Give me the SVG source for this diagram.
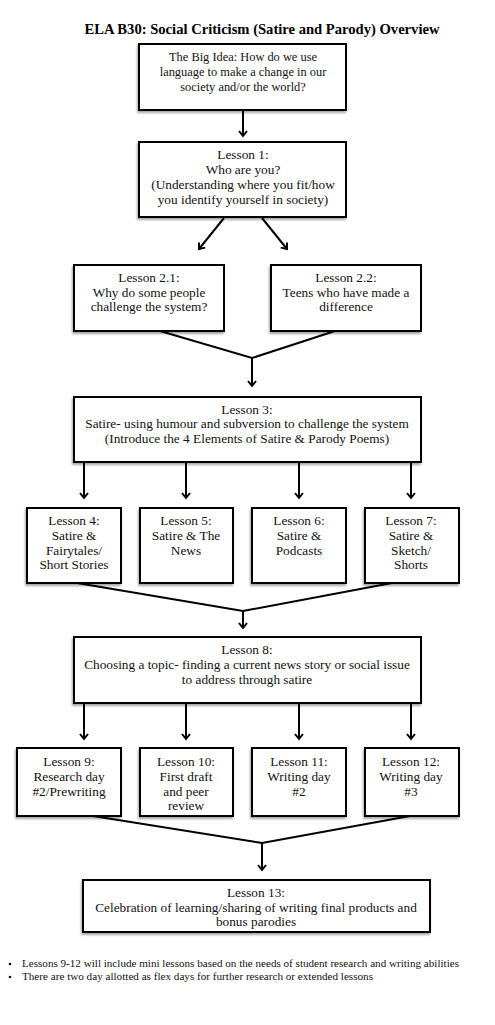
<svg xmlns="http://www.w3.org/2000/svg" width="495" height="1025" viewBox="0 0 495 1025">
<style>
.box{fill:#fff;stroke:#000;stroke-width:2;filter:url(#sh)}
.t{font-family:"Liberation Serif",serif;font-size:13.3px;text-anchor:middle;fill:#111}
.bi{font-family:"Liberation Serif",serif;font-size:12.4px;text-anchor:middle;fill:#111}
.c{stroke:#000;stroke-width:2;fill:none}
.a{stroke:#000;stroke-width:2;fill:none;marker-end:url(#ah)}
.title{font-family:"Liberation Serif",serif;font-size:14.6px;font-weight:bold;text-anchor:middle}
.note{font-family:"Liberation Serif",serif;font-size:10.6px;fill:#111}
</style>
<defs>
<filter id="sh" x="-10%" y="-10%" width="120%" height="130%">
<feDropShadow dx="-1" dy="2" stdDeviation="1.2" flood-color="#000" flood-opacity="0.35"/>
</filter>
<marker id="ah" markerWidth="10" markerHeight="10" refX="8" refY="5" orient="auto" markerUnits="userSpaceOnUse" viewBox="0 0 10 10">
<path d="M3,1 L8,5 L3,9" fill="none" stroke="#000" stroke-width="2"/>
</marker>
</defs>
<rect width="495" height="1025" fill="#fff"/>
<text class="title" x="262" y="34">ELA B30: Social Criticism (Satire and Parody) Overview</text>

<g id="connectors">
<line class="a" x1="243" y1="111" x2="243" y2="136"/>
<line class="a" x1="224" y1="218" x2="199" y2="249"/>
<line class="a" x1="262" y1="218" x2="287" y2="249"/>
<polyline class="c" points="160,331 252,358 335,331"/>
<line class="a" x1="252" y1="357" x2="252" y2="386"/>
<line class="a" x1="84" y1="463" x2="84" y2="498"/>
<line class="a" x1="186" y1="463" x2="186" y2="498"/>
<line class="a" x1="299" y1="463" x2="299" y2="498"/>
<line class="a" x1="411" y1="463" x2="411" y2="498"/>
<polyline class="c" points="77,583 243,611 392,583"/>
<line class="a" x1="243" y1="610" x2="243" y2="628"/>
<line class="a" x1="84" y1="703" x2="84" y2="739"/>
<line class="a" x1="186" y1="703" x2="186" y2="739"/>
<line class="a" x1="299" y1="703" x2="299" y2="739"/>
<line class="a" x1="411" y1="703" x2="411" y2="739"/>
<polyline class="c" points="93,816 262,843 410,816"/>
<line class="a" x1="262" y1="842" x2="262" y2="870"/>
</g>

<g id="bigidea">
<rect class="box" x="139" y="44" width="207" height="66"/>
<text class="bi" x="243" y="61">The Big Idea: How do we use</text>
<text class="bi" x="243" y="76">language to make a change in our</text>
<text class="bi" x="243" y="91">society and/or the world?</text>
</g>

<g id="lesson1">
<rect class="box" x="139" y="142" width="207" height="75"/>
<text class="t" x="243" y="159">Lesson 1:</text>
<text class="t" x="243" y="174">Who are you?</text>
<text class="t" x="243" y="189">(Understanding where you fit/how</text>
<text class="t" x="243" y="204">you identify yourself in society)</text>
</g>

<g id="lesson21">
<rect class="box" x="74" y="265" width="150" height="66"/>
<text class="t" x="149" y="282">Lesson 2.1:</text>
<text class="t" x="149" y="297">Why do some people</text>
<text class="t" x="149" y="311">challenge the system?</text>
</g>

<g id="lesson22">
<rect class="box" x="271" y="265" width="150" height="66"/>
<text class="t" x="346" y="282">Lesson 2.2:</text>
<text class="t" x="346" y="297">Teens who have made a</text>
<text class="t" x="346" y="311">difference</text>
</g>

<g id="lesson3">
<rect class="box" x="74" y="397" width="347" height="65"/>
<text class="t" x="247" y="414">Lesson 3:</text>
<text class="t" x="247" y="428">Satire- using humour and subversion to challenge the system</text>
<text class="t" x="247" y="443">(Introduce the 4 Elements of Satire &amp; Parody Poems)</text>
</g>

<g id="lesson4">
<rect class="box" x="27" y="508" width="94" height="75"/>
<text class="t" x="74" y="525">Lesson 4:</text>
<text class="t" x="74" y="540">Satire &amp;</text>
<text class="t" x="74" y="555">Fairytales/</text>
<text class="t" x="74" y="569">Short Stories</text>
</g>

<g id="lesson5">
<rect class="box" x="140" y="508" width="93" height="75"/>
<text class="t" x="186" y="525">Lesson 5:</text>
<text class="t" x="186" y="540">Satire &amp; The</text>
<text class="t" x="186" y="555">News</text>
</g>

<g id="lesson6">
<rect class="box" x="252" y="508" width="94" height="75"/>
<text class="t" x="299" y="525">Lesson 6:</text>
<text class="t" x="299" y="540">Satire &amp;</text>
<text class="t" x="299" y="555">Podcasts</text>
</g>

<g id="lesson7">
<rect class="box" x="365" y="508" width="94" height="75"/>
<text class="t" x="411" y="525">Lesson 7:</text>
<text class="t" x="411" y="540">Satire &amp;</text>
<text class="t" x="411" y="555">Sketch/</text>
<text class="t" x="411" y="569">Shorts</text>
</g>

<g id="lesson8">
<rect class="box" x="74" y="637" width="347" height="66"/>
<text class="t" x="247" y="654">Lesson 8:</text>
<text class="t" x="247" y="669">Choosing a topic- finding a current news story or social issue</text>
<text class="t" x="247" y="684">to address through satire</text>
</g>

<g id="lesson9">
<rect class="box" x="17" y="748" width="104" height="68"/>
<text class="t" x="69" y="766">Lesson 9:</text>
<text class="t" x="69" y="781">Research day</text>
<text class="t" x="69" y="796">#2/Prewriting</text>
</g>

<g id="lesson10">
<rect class="box" x="140" y="748" width="93" height="68"/>
<text class="t" x="186" y="766">Lesson 10:</text>
<text class="t" x="186" y="781">First draft</text>
<text class="t" x="186" y="796">and peer</text>
<text class="t" x="186" y="810">review</text>
</g>

<g id="lesson11">
<rect class="box" x="252" y="748" width="94" height="68"/>
<text class="t" x="299" y="766">Lesson 11:</text>
<text class="t" x="299" y="781">Writing day</text>
<text class="t" x="299" y="796">#2</text>
</g>

<g id="lesson12">
<rect class="box" x="365" y="748" width="94" height="68"/>
<text class="t" x="411" y="766">Lesson 12:</text>
<text class="t" x="411" y="781">Writing day</text>
<text class="t" x="411" y="796">#3</text>
</g>

<g id="lesson13">
<rect class="box" x="83" y="880" width="347" height="52"/>
<text class="t" x="256" y="897">Lesson 13:</text>
<text class="t" x="256" y="912">Celebration of learning/sharing of writing final products and</text>
<text class="t" x="256" y="926">bonus parodies</text>
</g>

<g id="notes">
<circle cx="10" cy="964" r="1.3" fill="#111"/>
<text class="note" x="22" y="967" textLength="437" lengthAdjust="spacingAndGlyphs">Lessons 9-12 will include mini lessons based on the needs of student research and writing abilities</text>
<circle cx="10" cy="977" r="1.3" fill="#111"/>
<text class="note" x="22" y="980" textLength="351" lengthAdjust="spacingAndGlyphs">There are two day allotted as flex days for further research or extended lessons</text>
</g>
</svg>
